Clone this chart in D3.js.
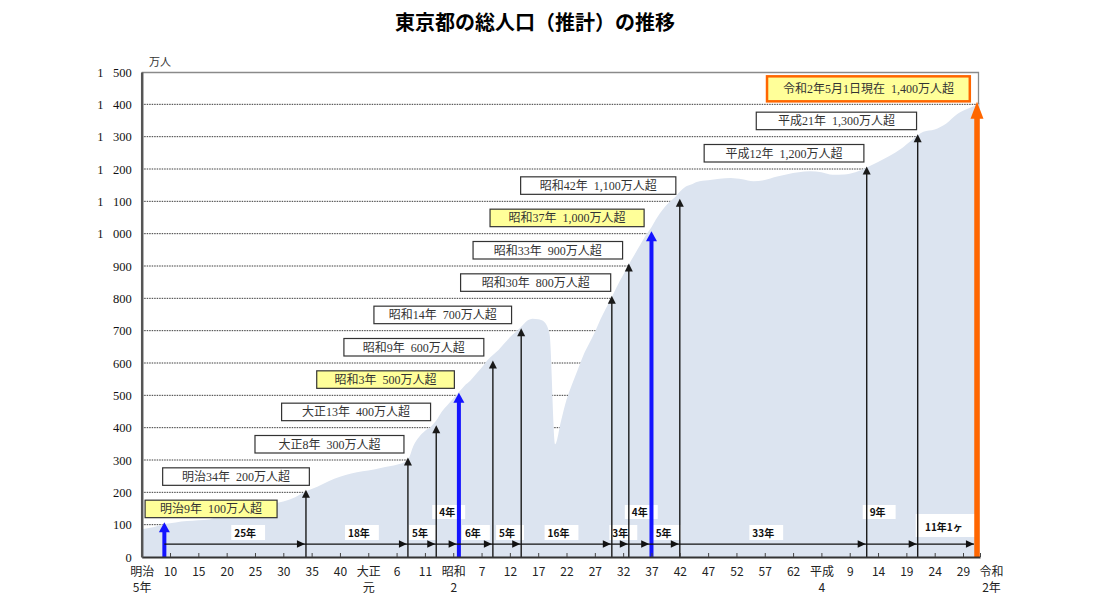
<!DOCTYPE html>
<html><head><meta charset="utf-8">
<script src="https://cdn.jsdelivr.net/npm/d3@7"></script>
<style>
body{margin:0;background:#fff;}
svg{display:block;}
</style></head><body>
<svg id="c" width="1120" height="603"></svg>
<script>
// ---------- data ----------
const popYears = [1872,1874,1876,1878,1880,1882,1884,
  1885,
  1887,1889,1891,1893,1895,1897,1899,1901,1903,1905,1907,1909,1911,1913,1915,1917,
  1919,1920,1921,1922,1923,1924,1925,1926,1927,1928,
  1929,1930,1931,1932,1933,1934,1935,1936,1937,1938,
  1939,1940,1941,1942,1943,1944,1945,1946,1947,1948,
  1949,1950,1951,1952,1953,1954,1955,1956,1957,1958,
  1959,1960,1961,1962,1963,1964,1965,1966,1967,1968,
  1969,1970,
  1972,1974,1976,1978,1980,1982,1984,1986,1988,1990,1992,1994,1996,1998,2000,
  2002,2004,2006,2008,2010,2012,2014,2016,2018,2020];
const popValues = [86,92,102,107,111,114,116,
  122,
  127,137,146,155,164,172,184,203,217,234,248,258,265,271,278,285,
  301,345,372,390,402,422,450,470,490,510,
  530,545,565,585,608,625,640,660,680,695,
  712,730,737,735,728,690,349,418,486,535,
  580,625,660,695,735,770,804,840,872,905,
  935,965,995,1020,1050,1075,1095,1110,1130,1145,
  1152,1160,
  1165,1170,1172,1168,1162,1166,1176,1184,1190,1193,1190,1182,1183,1190,1205,
  1222,1240,1262,1290,1315,1322,1340,1370,1388,1402];

const milestoneYears  = [1876,1901,1919,1924,1928,1934,1939,1955,1958,1962,1967,2000,2009,2020];
const milestoneValues = [100,200,300,400,500,600,700,800,900,1000,1100,1200,1300,1400];
const milestoneLabels = [
  "明治9年\u2002100万人超","明治34年\u2002200万人超","大正8年\u2002300万人超","大正13年\u2002400万人超",
  "昭和3年\u2002500万人超","昭和9年\u2002600万人超","昭和14年\u2002700万人超","昭和30年\u2002800万人超",
  "昭和33年\u2002900万人超","昭和37年\u20021,000万人超","昭和42年\u20021,100万人超","平成12年\u20021,200万人超",
  "平成21年\u20021,300万人超","令和2年5月1日現在\u20021,400万人超"];
const milestoneKinds = ["blue","black","black","black","blue","black","black","black","black","blue","black","black","black","orange"];

const durationLabels = ["25年","18年","5年","4年","6年","5年","16年","3年","4年","5年","33年","9年","11年1ヶ"];

const tickYears  = [1872,1877,1882,1887,1892,1897,1902,1907,1912,1917,1922,1927,1932,1937,1942,1947,1952,1957,1962,1967,1972,1977,1982,1987,1992,1997,2002,2007,2012,2017,2020];
const tickLabels = ["明治\n5年","10","15","20","25","30","35","40","大正\n元","6","11","昭和\n2","7","12","17","22","27","32","37","42","47","52","57","62","平成\n4","9","14","19","24","29","令和\n2年"];

const yTickValues = [0,100,200,300,400,500,600,700,800,900,1000,1100,1200,1300,1400,1500];
const yTickLabels = ["0","100","200","300","400","500","600","700","800","900","1\u2002\u2005000","1\u2002\u2005100","1\u2002\u2005200","1\u2002\u2005300","1\u2002\u2005400","1\u2002\u2005500"];

// ---------- layout (not data) ----------
const boxSpans = [[1872.6,1895.9],[1875.7,1901.6],[1892.0,1918.3],[1896.7,1923.0],[1902.9,1927.2],[1907.7,1932.4],
  [1913.0,1937.3],[1928.3,1954.8],[1930.5,1956.9],[1933.5,1960.7],[1938.9,1966.3],[1971.3,1999.5],[1980.5,2008.8],[1982.4,2018.2]];
const durationLevel = [0,0,0,1,0,0,0,0,1,0,0,1,2];
const durationShift = [10,2,-2,0,-3,0,-8,0,0,-2,-10,0,0];

const SANS = "'Noto Sans CJK JP','Noto Sans',sans-serif";
const SERIF = "'Liberation Serif','DejaVu Serif','Noto Sans CJK JP',serif";

const x = d3.scaleLinear().domain([1872,2020]).range([141.7,980]);
const y = d3.scaleLinear().domain([0,1500]).range([557,72]);

const svg = d3.select("#c");

// title
svg.append("text").attr("x",535).attr("y",30).attr("text-anchor","middle")
  .attr("font-family",SANS).attr("font-weight","bold").attr("font-size",20).attr("fill","#000")
  .text("東京都の総人口（推計）の推移");

// unit
svg.append("text").attr("x",160).attr("y",66).attr("text-anchor","middle")
  .attr("font-family",SANS).attr("font-size",11).attr("fill","#333").text("万人");

// gridlines
svg.append("g").selectAll("line").data(yTickValues.filter(v=>v>0 && v<1500)).join("line")
  .attr("x1",x(1872)).attr("x2",x(2020)).attr("y1",d=>y(d)).attr("y2",d=>y(d))
  .attr("stroke","#3a3a3a").attr("stroke-width",1).attr("stroke-dasharray","1.5,1");

// frame top/right
svg.append("path").attr("d",`M${x(1872)},${y(1500)+0.5}H${x(2020)-1.5}V${y(0)}`)
  .attr("fill","none").attr("stroke","#8a8a8a").attr("stroke-width",1.3);

// area
const pop = popYears.map((yr,i)=>({year:yr,v:popValues[i]}));
svg.append("path").datum(pop)
  .attr("d",d3.area().x(d=>x(d.year)).y0(y(0)).y1(d=>y(d.v)).curve(d3.curveMonotoneX))
  .attr("fill","#dce4f0");

// duration label boxes + texts (boxes first)
const lineY = y(40);
const durG = svg.append("g");
const durTxtG = svg.append("g");
durationLabels.forEach((lab,i)=>{
  const x0 = x(milestoneYears[i]), x1 = x(milestoneYears[i+1]);
  const lvl = durationLevel[i];
  const t = durTxtG.append("text").attr("font-family",SANS).attr("font-weight","bold")
    .attr("font-size",10).attr("fill","#111").text(lab);
  let tx, ty;
  if(lvl===0){ t.attr("text-anchor","middle"); tx=(x0+x1)/2 + durationShift[i]; ty=537; }
  else if(lvl===1){ t.attr("text-anchor","start"); tx=x0+3; ty=516; }
  else { t.attr("text-anchor","middle"); tx=(x0+x1)/2-5; ty=531; }
  t.attr("x",tx).attr("y",ty);
  const w = t.node().getComputedTextLength();
  const left = lvl===0 ? tx-w/2-3 : (lvl===1 ? x0-4 : x0-2);
  const right = lvl===0 ? tx+w/2+9 : (lvl===1 ? tx+w+10 : x1-2);
  const top = lvl===0 ? 525 : (lvl===1 ? 505 : 514);
  const bot = lvl===0 ? 540 : (lvl===1 ? 519 : 537);
  durG.append("rect").attr("x",left).attr("y",top).attr("width",right-left).attr("height",bot-top).attr("fill","#fff");
});

// milestone label boxes
const boxG = svg.append("g");
milestoneLabels.forEach((lab,i)=>{
  const last = milestoneKinds[i]==="orange";
  const h = last ? 25 : 17.5;
  const gap = last ? 3 : 7;
  const bx0 = x(boxSpans[i][0]), bx1 = x(boxSpans[i][1]);
  const by1 = y(milestoneValues[i]) - gap, by0 = by1 - h;
  const yellow = milestoneKinds[i]!=="black";
  boxG.append("rect").attr("x",bx0).attr("y",by0).attr("width",bx1-bx0).attr("height",h)
    .attr("fill",yellow?"#ffff99":"#fff")
    .attr("stroke",last?"#ff6600":"#333").attr("stroke-width",last?2.5:1.2);
  boxG.append("text").attr("x",(bx0+bx1)/2).attr("y",(by0+by1)/2+4.4).attr("text-anchor","middle")
    .attr("font-family",SERIF).attr("font-size",12).attr("fill","#333").text(lab);
});

// vertical arrows
const styles = {
  black:{c:"#1a1a1a",w:1.4,hw:8,hh:8,dx:0},
  blue:{c:"#1414ff",w:4,hw:11,hh:10,dx:0},
  orange:{c:"#ff6600",w:5.5,hw:13,hh:17,dx:-3}
};
const arrG = svg.append("g");
milestoneYears.forEach((yr,i)=>{
  const s = styles[milestoneKinds[i]];
  const ax = x(yr)+s.dx, tip = y(milestoneValues[i]) - 2.5;
  arrG.append("line").attr("x1",ax).attr("x2",ax).attr("y1",y(0)).attr("y2",tip+s.hh-1)
    .attr("stroke",s.c).attr("stroke-width",s.w);
  arrG.append("path").attr("d",`M${ax},${tip}L${ax-s.hw/2},${tip+s.hh}L${ax+s.hw/2},${tip+s.hh}Z`).attr("fill",s.c);
});

// horizontal duration arrow line
const hG = svg.append("g");
const endTip = (i)=>{ const s=styles[milestoneKinds[i]]; return x(milestoneYears[i])+s.dx-s.w/2-0.3; };
hG.append("line").attr("x1",x(milestoneYears[0])).attr("x2",endTip(milestoneYears.length-1))
  .attr("y1",lineY).attr("y2",lineY).attr("stroke","#111").attr("stroke-width",1.2);
milestoneYears.slice(1).forEach((yr,j)=>{
  const tx = endTip(j+1);
  hG.append("path").attr("d",`M${tx},${lineY}L${tx-8},${lineY-3.8}L${tx-8},${lineY+3.8}Z`).attr("fill","#111");
});
durTxtG.raise();

// axes
const xAxis = d3.axisBottom(x).tickValues(tickYears).tickFormat((d,i)=>tickLabels[i])
  .tickSize(-4).tickSizeOuter(0).tickPadding(10);
const gx = svg.append("g").attr("transform",`translate(0,${y(0)})`).call(xAxis);
gx.select(".domain").attr("stroke","#333").attr("stroke-width",2);
gx.selectAll(".tick line").attr("stroke","#444").attr("stroke-width",1);
gx.selectAll(".tick text").each(function(d,i){
  const t = d3.select(this);
  const parts = tickLabels[i].split("\n");
  t.text(null).attr("font-family",SANS).attr("font-size",12).attr("fill","#222").attr("y",19).attr("dy",null);
  if(i===tickLabels.length-1) t.attr("x",11);
  parts.forEach((p,k)=>{
    t.append("tspan").attr("x",i===tickLabels.length-1?11:0).attr("dy",k===0?0:16).text(p);
  });
});
const yAxis = d3.axisLeft(y).tickValues(yTickValues).tickFormat((d,i)=>yTickLabels[i]).tickSize(0).tickPadding(10);
const gy = svg.append("g").attr("transform",`translate(${x(1872)},0)`).call(yAxis);
gy.select(".domain").attr("stroke","#555").attr("stroke-width",2.5);
gy.selectAll(".tick text").attr("font-family",SERIF).attr("font-size",12.5).attr("fill","#111");
</script>
</body></html>
